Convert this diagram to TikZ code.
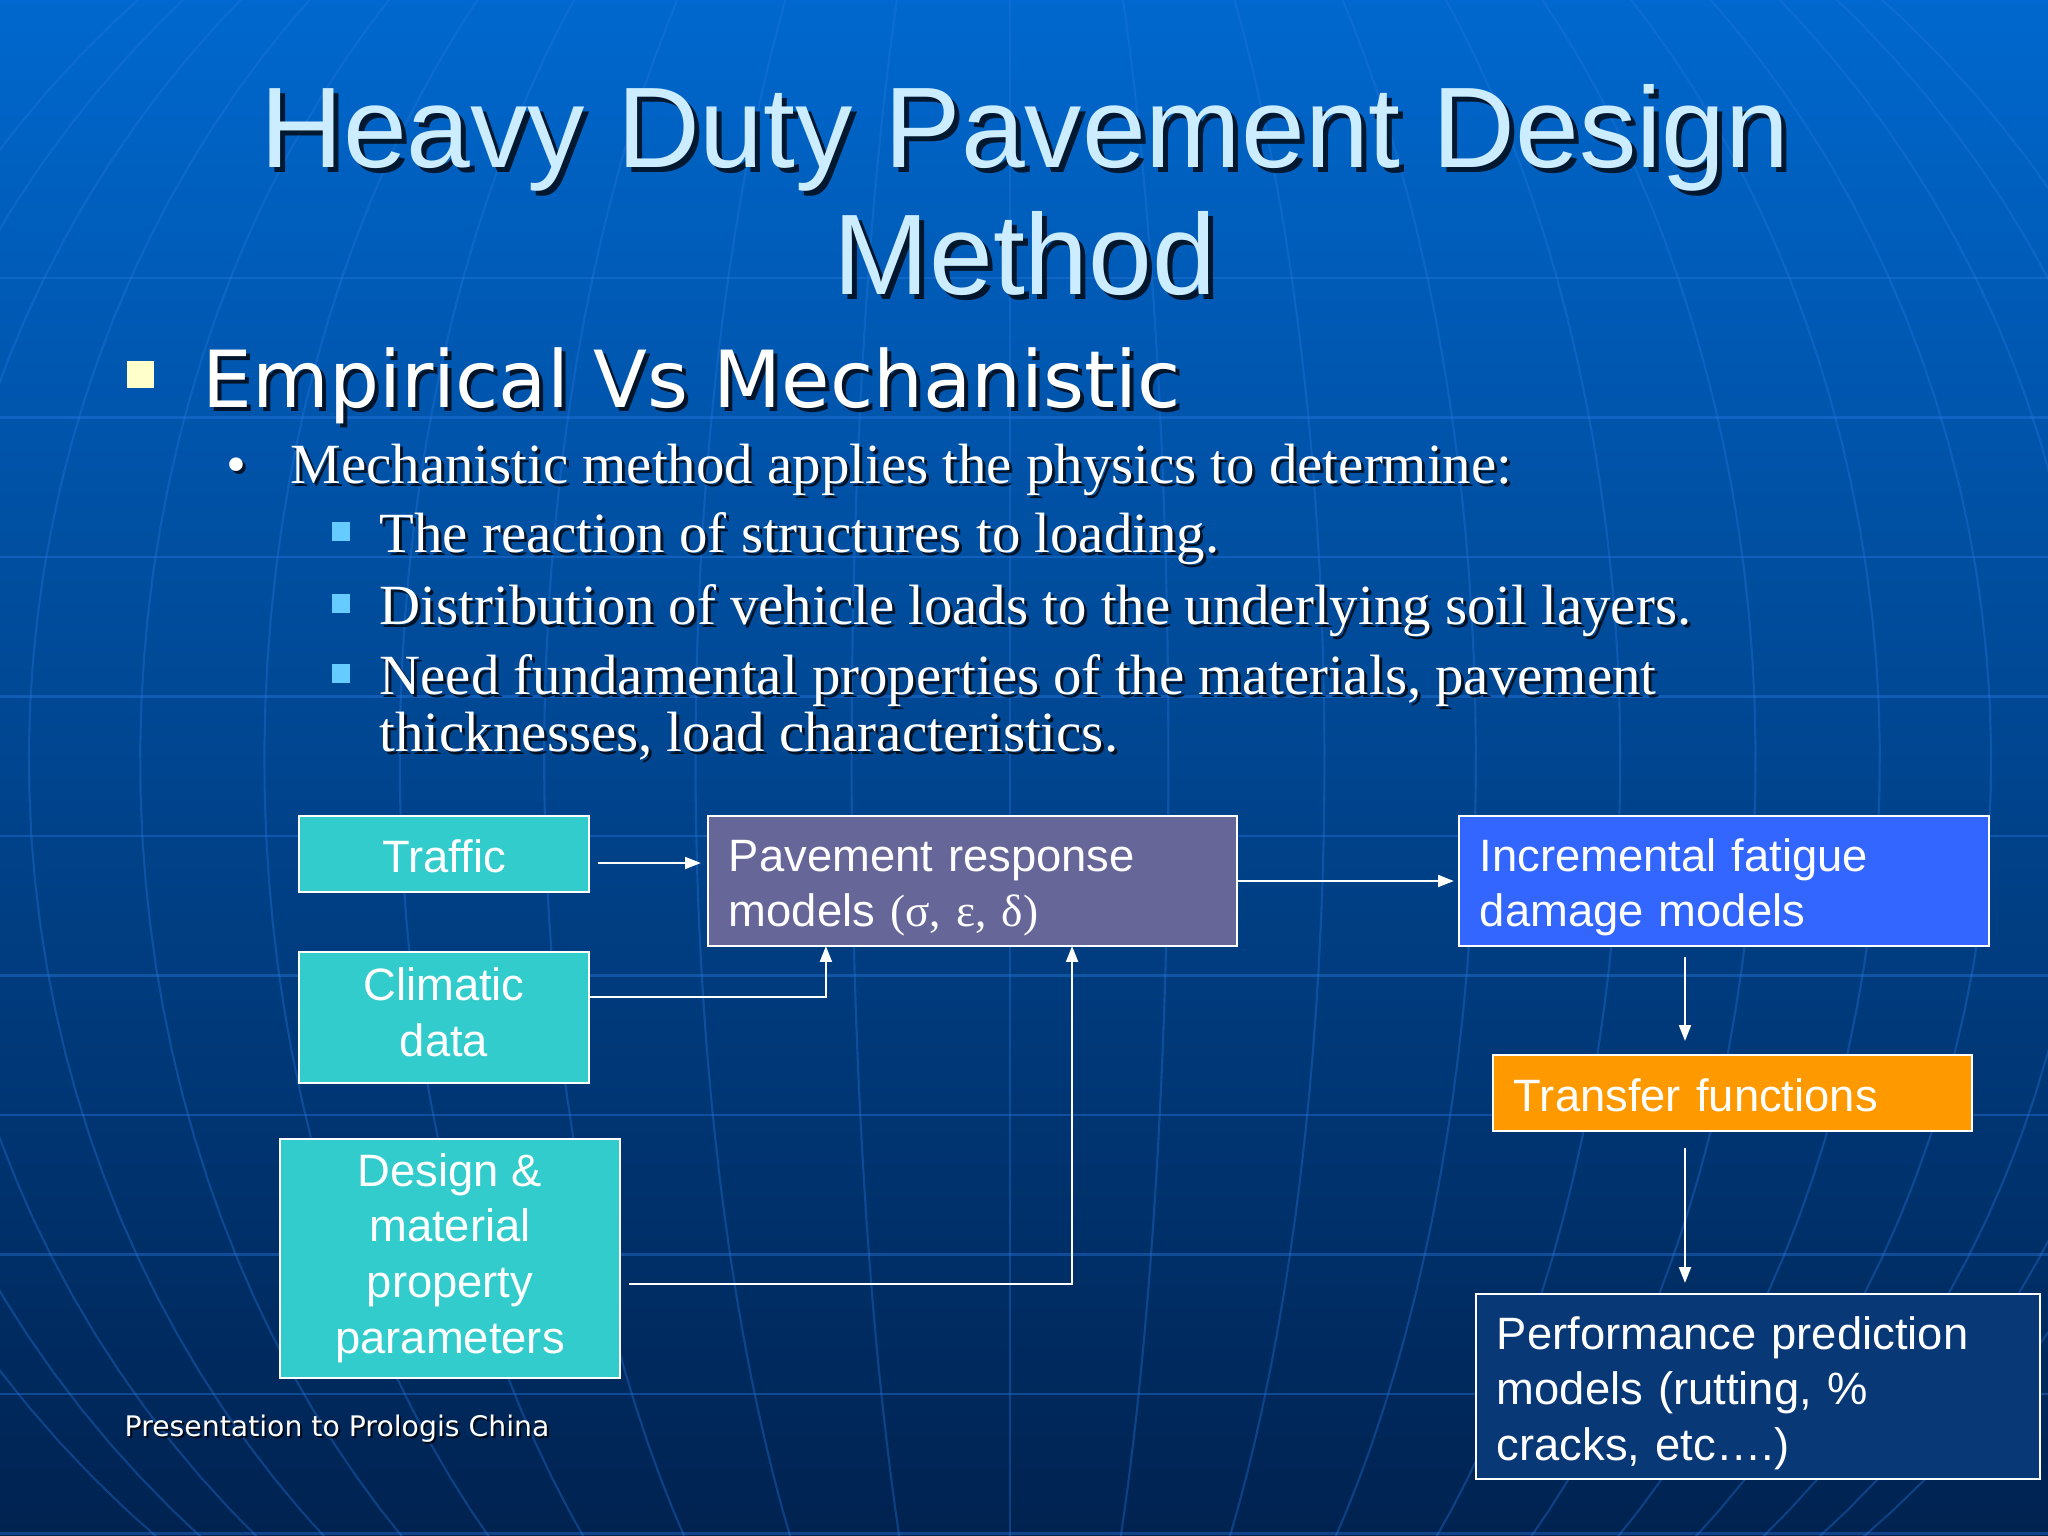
\documentclass[tikz,border=0pt]{standalone}
\usepackage{fontspec}
\setmainfont{Liberation Serif}
\newfontfamily\arialfont{Liberation Sans}
\newfontfamily\tahomafont{DejaVu Sans}
\usetikzlibrary{arrows.meta}

\definecolor{slidetop}{RGB}{0,104,206}
\definecolor{slidemid}{RGB}{0,70,146}
\definecolor{slidebot}{RGB}{0,34,80}
\definecolor{gridblue}{RGB}{40,120,225}
\definecolor{titleblue}{RGB}{204,236,255}
\definecolor{creambullet}{RGB}{255,255,204}
\definecolor{skybullet}{RGB}{102,204,255}
\definecolor{tealfill}{RGB}{51,204,204}
\definecolor{slatefill}{RGB}{102,102,153}
\definecolor{royalfill}{RGB}{51,102,255}
\definecolor{orangefill}{RGB}{255,153,0}
\definecolor{navyfill}{RGB}{8,56,118}

% name, style, position, shadow offset, text
\newcommand{\shadowtext}[5]{%
  \node[#2,text=black,text opacity=0.75,xshift=#4,yshift=-#4] (#1-sh) at (#3) {#5};
  \node[#2] (#1) at (#3) {#5};}

\begin{document}
\begin{tikzpicture}[x=0.01cm,y=-0.01cm,
  diagbox/.style={draw=white,line width=0.6pt,text=white,inner sep=0pt,outer sep=0pt,font=\arialfont\fontsize{12.9}{15.8}\selectfont,
    execute at begin node={\rule{0pt}{13.3pt}},execute at end node={\rule[-3pt]{0pt}{3pt}}},
  centrebox/.style={diagbox,fill=tealfill,align=center},
  leftbox/.style={diagbox,align=left,inner xsep=0.21cm},
  arr/.style={draw=white,line width=0.55pt,-{Triangle[length=4.5pt,width=3.4pt]}},
  headline/.style={anchor=base,text=titleblue,inner sep=0pt,font=\arialfont\fontsize{32.6}{36}\selectfont},
  level1/.style={anchor=base west,text=white,inner sep=0pt,font=\tahomafont\fontsize{22.4}{26}\selectfont},
  level2/.style={anchor=base west,text=white,inner sep=0pt,font=\fontsize{16.16}{17}\selectfont},
  footer/.style={anchor=base west,text=white,inner sep=0pt,font=\tahomafont\fontsize{8.05}{9.6}\selectfont}]
\shade[top color=slidetop,middle color=slidemid,bottom color=slidebot] (0,0) rectangle (2048,1536);
\useasboundingbox (0,0) rectangle (2048,1536);
% globe grid
\begin{scope}
\clip (0,0) rectangle (2048,1536);
\foreach \k in {0,...,9}
  \draw[gridblue,opacity=0.4,line width=0.8pt] (0,278+139.5*\k) -- (2048,278+139.5*\k);
\foreach \k in {-10,...,10}
  \draw[gridblue,opacity=0.35,line width=0.6pt] plot[domain=-45:46,samples=40,variable=\t]
    ({1010+1300*sin(7*\k)*cos(\t)},{760+1086*sin(\t)});
\end{scope}

% title and bullets
\shadowtext{title1}{headline}{1025,167}{0.05cm}{Heavy Duty Pavement Design}
\shadowtext{title2}{headline}{1025,294}{0.05cm}{Method}
\fill[creambullet] (127,361) rectangle (154,388);
\shadowtext{empirical}{level1}{202,407}{0.04cm}{Empirical Vs Mechanistic}
\shadowtext{dot}{level2}{226,483}{0.03cm}{•}
\shadowtext{mech}{level2}{290,483}{0.03cm}{Mechanistic method applies the physics to determine:}
\fill[skybullet] (332,522) rectangle (350,541);
\shadowtext{reaction}{level2}{379,552}{0.03cm}{The reaction of structures to loading.}
\fill[skybullet] (332,594) rectangle (350,613);
\shadowtext{distrib}{level2}{379,624}{0.03cm}{Distribution of vehicle loads to the underlying soil layers.}
\fill[skybullet] (332,664) rectangle (350,683);
\shadowtext{need1}{level2}{379,694}{0.03cm}{Need fundamental properties of the materials, pavement}
\shadowtext{need2}{level2}{379,751}{0.03cm}{thicknesses, load characteristics.}
\shadowtext{credit}{footer}{124,1436}{0.02cm}{Presentation to Prologis China}

% boxes
\node[centrebox,minimum width=2.90cm,minimum height=0.76cm] (traffic) at (444,854) {Traffic};
\node[centrebox,minimum width=2.90cm,minimum height=1.31cm] (climate) at (444,1017.5) {Climatic\\data};
\node[centrebox,minimum width=3.40cm,minimum height=2.39cm] (design) at (450,1258.5) {Design \&\\material\\property\\parameters};
\node[leftbox,fill=slatefill,text width=4.87cm,minimum height=1.30cm] (response) at (972.5,881) {Pavement response\\models {\rmfamily(σ, ε, δ)}};
\node[leftbox,fill=royalfill,text width=4.88cm,minimum height=1.30cm] (fatigue) at (1724,881) {Incremental fatigue\\damage models};
\node[leftbox,fill=orangefill,text width=4.37cm,minimum height=0.76cm] (transfer) at (1732.5,1093) {Transfer functions};
\node[leftbox,fill=navyfill,text width=5.22cm,minimum height=1.85cm] (performance) at (1758,1386.5) {Performance prediction\\models (rutting, \%\\cracks, etc….)};

% connectors
\coordinate (trafficout) at ([yshift=-0.09cm]traffic.east);
\draw[arr,shorten <=0.09cm,shorten >=0.07cm] (trafficout) -- (trafficout -| response.west);
\draw[arr,shorten >=0.05cm] (response) -- (fatigue);
\coordinate (climateout) at ([yshift=0.205cm]climate.east);
\coordinate (climatein) at ([xshift=-1.465cm]response.south);
\draw[arr] (climateout) -| (climatein);
\coordinate (designout) at ([yshift=-0.255cm]design.east);
\coordinate (designin) at ([xshift=0.995cm]response.south);
\draw[arr,shorten <=0.09cm] (designout) -| (designin);
\coordinate (fatigueout) at ([xshift=-0.39cm]fatigue.south);
\draw[arr,shorten <=0.11cm,shorten >=0.14cm] (fatigueout) -- (fatigueout |- transfer.north);
\coordinate (transferout) at (fatigueout |- transfer.south);
\draw[arr,shorten <=0.17cm,shorten >=0.11cm] (transferout) -- (transferout |- performance.north);
\end{tikzpicture}
\end{document}
